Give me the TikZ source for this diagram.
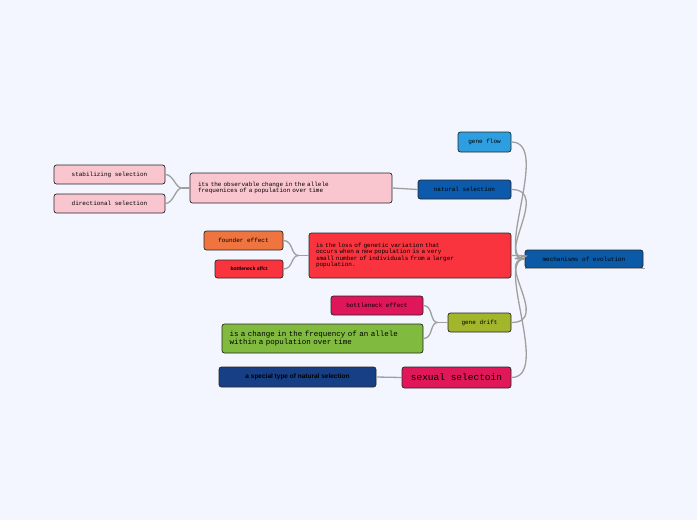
\documentclass[tikz,border=0pt]{standalone}
\usepackage{fontspec}
\setmonofont{Liberation Mono}
\newfontfamily\sansb{Liberation Sans}
\begin{document}
\begin{tikzpicture}[x=1pt,y=-1pt,
 bx/.style={draw=black!85,line width=0.7pt,rounded corners=2.5pt,inner sep=0pt,font=\ttfamily\fontsize{6}{6.5}\selectfont},
 cn/.style={draw=gray!75,line width=1.3pt}]
\definecolor{bg}{HTML}{F3F6FE}
\fill[bg] (0,0) rectangle (697,520);
\useasboundingbox (0,0) rectangle (697,520);
\node[bx,fill={rgb,255:red,11;green,90;blue,168},minimum width=118,minimum height=18] (root) at (584,259) {mechanisms of evolution};
\draw[gray!70,line width=0.8pt] (525,268.5) -- (645,268.5);
\node[bx,fill={rgb,255:red,45;green,159;blue,224},minimum width=53,minimum height=20] (gf) at (484.5,142) {gene flow};
\node[bx,fill={rgb,255:red,12;green,90;blue,171},minimum width=93,minimum height=19] (ns) at (464.5,189.5) {natural selection};
\node[bx,fill={rgb,255:red,249;green,198;blue,208},minimum width=202,minimum height=30,align=left,text width=186] (obs) at (291,188) {its the observable change in the allele\\frequenices of a population over time};
\node[bx,fill={rgb,255:red,249;green,198;blue,208},minimum width=111,minimum height=19] (stab) at (109.5,174.5) {stabilizing selection};
\node[bx,fill={rgb,255:red,249;green,198;blue,208},minimum width=111,minimum height=19] (dir) at (109.5,203.5) {directional selection};
\node[bx,fill={rgb,255:red,249;green,52;blue,63},minimum width=202,minimum height=45,align=left,text width=188] (loss) at (410,255.5) {is the loss of genetic variation that\\occurs when a new population is  a very\\small number of individuals from a larger\\population.};
\node[bx,fill={rgb,255:red,239;green,116;blue,64},minimum width=79,minimum height=19] (fe) at (243.5,240.5) {founder effect};
\node[bx,fill={rgb,255:red,249;green,52;blue,63},minimum width=68,minimum height=18,font=\sansb\bfseries\fontsize{5}{6}\selectfont] (ba) at (249,269) {bottleneck affct};
\node[bx,fill={rgb,255:red,163;green,181;blue,43},minimum width=63,minimum height=19] (gd) at (479.5,322.5) {gene drift};
\node[bx,fill={rgb,255:red,224;green,22;blue,90},minimum width=92,minimum height=19] (be) at (377,305.5) {bottleneck effect};
\node[bx,fill={rgb,255:red,128;green,187;blue,64},minimum width=201,minimum height=29,align=left,text width=186,font=\ttfamily\fontsize{7.5}{7.5}\selectfont] (chg) at (322.5,338.5) {is a change in the frequency of an allele\\within a population over time};
\node[bx,fill={rgb,255:red,224;green,24;blue,90},minimum width=109,minimum height=21,font=\ttfamily\fontsize{9.5}{10}\selectfont] (ss) at (456.5,377.5) {sexual selectoin};
\node[bx,fill={rgb,255:red,22;green,63;blue,133},minimum width=157,minimum height=20,font=\sansb\bfseries\fontsize{6.5}{7}\selectfont] (sp) at (297.5,377) {a special type of natural selection};
% root connectors
\foreach \n in {gf,ns,loss,gd,ss}
  \draw[cn] (root.west) .. controls +(-30,0) and +(40,0) .. (\n.east);
% natural selection
\draw[cn] (ns.west) -- (obs.east);
\draw[cn] (obs.west) -- +(-8,0) coordinate (j1);
\foreach \n in {stab,dir} \draw[cn] (j1) .. controls +(-6,0) and +(8,0) .. (\n.east);
% loss
\draw[cn] (loss.west) -- +(-10,0) coordinate (j2);
\foreach \n in {fe,ba} \draw[cn] (j2) .. controls +(-8,0) and +(10,0) .. (\n.east);
% gene drift
\draw[cn] (gd.west) -- +(-10,0) coordinate (j3);
\foreach \n in {be,chg} \draw[cn] (j3) .. controls +(-8,0) and +(10,0) .. (\n.east);
% sexual
\draw[cn] (ss.west) -- (sp.east);
\end{tikzpicture}
\end{document}
